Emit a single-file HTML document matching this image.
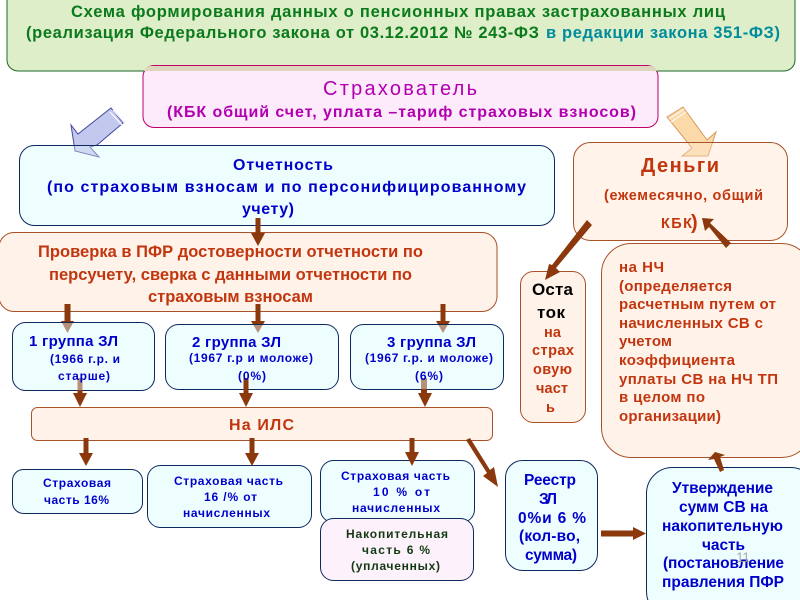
<!DOCTYPE html>
<html lang="ru">
<head>
<meta charset="utf-8">
<title>Схема формирования данных</title>
<style>
html,body{margin:0;padding:0;background:#fff;width:800px;height:600px;overflow:hidden}
svg{display:block}
text{font-family:"Liberation Sans",sans-serif;font-weight:bold}
.n{font-weight:normal}
.b{fill:#0000cc}
.r{fill:#c2360f}
.p{fill:#b000b0}
.g{fill:#0b7a1c}
.a{fill:#8b380c}
</style>
</head>
<body>
<svg width="800" height="600" viewBox="0 0 800 600" xmlns="http://www.w3.org/2000/svg">
<defs>
<clipPath id="c1"><rect x="20" y="146" width="534" height="79"/></clipPath>
<clipPath id="c2"><rect x="574" y="143" width="213" height="97"/></clipPath>
<clipPath id="g1"><rect x="13" y="323" width="141" height="67"/></clipPath>
<clipPath id="g2"><rect x="166" y="325" width="172" height="64"/></clipPath>
<clipPath id="g3"><rect x="351" y="325" width="152" height="64"/></clipPath>
</defs>
<rect width="800" height="600" fill="#fff"/>

<!-- top boxes -->
<rect x="7" y="-12" width="788" height="83" rx="11" fill="#ddeec8" stroke="#1f6a2a"/>
<rect x="143" y="65.500" width="515" height="62" rx="11" fill="#fdeafa" stroke="#c0006a"/>
<path d="M150 66H651Q656 67 657 71H144Q145 67 150 66Z" fill="#dcd6bc"/>

<!-- block arrows: solid outside the boxes -->
<polygon points="71,125 78,134 111,108 123,123 97,145 90,147 99,157 75,151" fill="#c3c8ee" stroke="#4a4aa0"/>
<path d="M113,110L125,123M110,112L122,125" stroke="#f0f0ff" stroke-width="1.500"/>
<polygon points="667,117 683,107 707,140 716,132 708,156 682,156 692,148" fill="#fbd9a8" stroke="#d89a5a"/>
<path d="M669,119L684,109M671,122L686,112" stroke="#fff" stroke-width="1"/>

<rect x="19.500" y="145.500" width="535" height="80" rx="15" fill="#eefeff" stroke="#0d2a5e"/>
<rect x="573.500" y="142.500" width="214" height="98" rx="17" fill="#fff3ea" stroke="#a8522a"/>
<polygon points="71,125 78,134 111,108 123,123 97,145 90,147 99,157 75,151" fill="#c3c8ee" stroke="#4a4aa0" opacity=".65" clip-path="url(#c1)"/>
<polygon points="667,117 683,107 707,140 716,132 708,156 682,156 692,148" fill="#fbd9a8" stroke="#d89a5a" opacity=".7" clip-path="url(#c2)"/>

<rect x="-1" y="232.500" width="498" height="79" rx="15" fill="#fff2e8" stroke="#a8522a"/>

<!-- arrows crossing into group boxes (solid part) -->
<g class="a">
<polygon points="64.500,304 70.500,304 70.500,321 74,321 67.500,333 61,321 64.500,321"/>
<polygon points="255.500,304 260.500,304 260.500,321 265,321 258,333 251,321 255.500,321"/>
<polygon points="440.500,304 445.500,304 445.500,321 450,321 443,333 436,321 440.500,321"/>
</g>

<!-- group boxes -->
<rect x="12.500" y="322.500" width="142" height="68" rx="13" fill="#eefeff" stroke="#0d2a5e"/>
<rect x="165.500" y="324.500" width="173" height="65" rx="13" fill="#eefeff" stroke="#0d2a5e"/>
<rect x="350.500" y="324.500" width="153" height="65" rx="13" fill="#eefeff" stroke="#0d2a5e"/>

<!-- arrow parts seen through group boxes -->
<g class="a" opacity=".55">
<polygon points="64.500,304 70.500,304 70.500,321 74,321 67.500,333 61,321 64.500,321" clip-path="url(#g1)"/>
<polygon points="255.500,304 260.500,304 260.500,321 265,321 258,333 251,321 255.500,321" clip-path="url(#g2)"/>
<polygon points="440.500,304 445.500,304 445.500,321 450,321 443,333 436,321 440.500,321" clip-path="url(#g3)"/>
<rect x="77.500" y="378" width="5" height="12"/>
<rect x="421" y="378" width="6" height="11"/>
</g>

<!-- on-ILS box -->
<rect x="31.500" y="407.500" width="461" height="33" rx="6" fill="#fff2e8" stroke="#a8522a"/>

<!-- bottom boxes -->
<rect x="12.500" y="469.500" width="130" height="44" rx="11" fill="#eefeff" stroke="#0d2a5e"/>
<rect x="147.500" y="465.500" width="164" height="62" rx="13" fill="#eefeff" stroke="#0d2a5e"/>
<rect x="320.500" y="460.500" width="154" height="62" rx="13" fill="#eefeff" stroke="#0d2a5e"/>
<rect x="320.500" y="518.500" width="153" height="62" rx="13" fill="#fdf1fb" stroke="#0d2a5e"/>
<rect x="505.500" y="460.500" width="92" height="110" rx="17" fill="#eefeff" stroke="#0d2a5e"/>
<rect x="646.500" y="467.500" width="170" height="150" rx="26" fill="#eefeff" stroke="#0d2a5e"/>
<rect x="520.500" y="271.500" width="65" height="151" rx="13" fill="#fff2e8" stroke="#a8522a"/>
<rect x="601.500" y="243.500" width="210" height="214" rx="30" fill="#fff2e8" stroke="#a8522a"/>

<!-- solid arrows -->
<g class="a">
<polygon points="255.500,218 260.500,218 260.500,233 265,233 258,246 251,233 255.500,233"/>
<polygon points="77.500,390 82.500,390 82.500,393 87,393 80,407 73,393 77.500,393"/>
<polygon points="243.500,378 248.500,378 248.500,393 253,393 246,407 239,393 243.500,393"/>
<polygon points="421,389 427,389 427,393 432,393 425,407 418,393 421,393"/>
<polygon points="83.500,438 88.500,438 88.500,453 93,453 86,466 79,453 83.500,453"/>
<polygon points="249.500,438 254.500,438 254.500,453 259,453 252,466 245,453 249.500,453"/>
<polygon points="409.500,438 414.500,438 414.500,452 419,452 412,466 405,452 409.500,452"/>
<polygon points="601,530.500 633,530.500 633,527 646,533.500 633,540 633,536.500 601,536.500"/>
<polygon points="466,440 470,438 490,470 494,467 498,487 483,476 487,473"/>
<polygon points="720,472 724,470 720,457 725,455 715,452 708,460 714,459"/>
<polygon points="726,248 731,243 710,223 714,219 702,218 705,231 709,227"/>
<polygon points="587,220 592,225 556,268 560,272 545,280 549,264 552,265"/>
</g>

<!-- title -->
<text x="71" y="17" font-size="16.500" class="g" textLength="654">Схема формирования данных о пенсионных правах застрахованных  лиц</text>
<text x="26" y="38" font-size="16.500" class="g" textLength="513">(реализация Федерального закона от 03.12.2012 № 243-ФЗ</text>
<text x="546" y="38" font-size="16.500" fill="#008c9c" textLength="234">в редакции закона 351-ФЗ)</text>

<text x="323" y="95" font-size="20" class="p n" textLength="154">Страхователь</text>
<text x="167" y="117" font-size="16" class="p" textLength="469">(КБК общий счет, уплата –тариф страховых взносов)</text>

<text x="233" y="170" font-size="16" class="b" textLength="100">Отчетность</text>
<text x="47" y="192" font-size="16" class="b" textLength="479">(по страховым взносам и по персонифицированному</text>
<text x="242" y="214" font-size="16" class="b" textLength="52">учету)</text>

<text x="641" y="172" font-size="20" class="r" textLength="78">Деньги</text>
<text x="604" y="200" font-size="14.500" class="r" textLength="159">(ежемесячно, общий</text>
<text x="661" y="228" font-size="14.500" class="r" textLength="31">КБК</text>
<text x="691" y="229" font-size="20" class="r">)</text>

<text x="38" y="257" font-size="16.500" class="r" textLength="385">Проверка в ПФР достоверности отчетности по</text>
<text x="49" y="280" font-size="16.500" class="r" textLength="363">персучету, сверка с данными отчетности по</text>
<text x="148" y="302" font-size="16.500" class="r" textLength="165">страховым взносам</text>

<text x="29" y="346" font-size="15" class="b" textLength="89">1 группа ЗЛ</text>
<text x="50" y="363" font-size="12" class="b" textLength="70">(1966 г.р. и</text>
<text x="58" y="380" font-size="12" class="b" textLength="52">старше)</text>

<text x="192" y="347" font-size="15" class="b" textLength="89">2 группа ЗЛ</text>
<text x="189" y="362" font-size="12" class="b" textLength="124">(1967 г.р и моложе)</text>
<text x="238" y="380" font-size="12" class="b" textLength="28">(0%)</text>

<text x="387" y="347" font-size="15" class="b" textLength="89">3 группа ЗЛ</text>
<text x="365" y="362" font-size="12" class="b" textLength="128">(1967 г.р. и моложе)</text>
<text x="415" y="380" font-size="12" class="b" textLength="28">(6%)</text>

<text x="229" y="430" font-size="16" class="r" textLength="65">На ИЛС</text>

<text x="43" y="487" font-size="12" class="b" textLength="68">Страховая</text>
<text x="44" y="504" font-size="12" class="b" textLength="65">часть 16%</text>

<text x="174" y="485" font-size="12" class="b" textLength="109">Страховая часть</text>
<text x="204" y="501" font-size="12" class="b" textLength="53">16 /% от</text>
<text x="183" y="517" font-size="12" class="b" textLength="87">начисленных</text>

<text x="341" y="480" font-size="12" class="b" textLength="109">Страховая часть</text>
<text x="373" y="496" font-size="12" class="b" textLength="57">10 % от</text>
<text x="352" y="512" font-size="12" class="b" textLength="88">начисленных</text>

<text x="346" y="538" font-size="12" fill="#123a12" textLength="102">Накопительная</text>
<text x="362" y="554" font-size="12" fill="#123a12" textLength="68">часть   6 %</text>
<text x="351" y="570" font-size="12" fill="#123a12" textLength="89">(уплаченных)</text>

<text x="532" y="295" font-size="17" fill="#000" textLength="41">Оста</text>
<text x="537" y="318" font-size="17" fill="#000" textLength="28">ток</text>
<text x="544" y="337" font-size="14.500" class="r" textLength="17">на</text>
<text x="532" y="355" font-size="14.500" class="r" textLength="42">страх</text>
<text x="533" y="374" font-size="14.500" class="r" textLength="39">овую</text>
<text x="536" y="393" font-size="14.500" class="r" textLength="32">част</text>
<text x="546" y="412" font-size="14.500" class="r" textLength="8">ь</text>

<text x="619" y="272" font-size="15" class="r" textLength="45">на НЧ</text>
<text x="619" y="291" font-size="15" class="r" textLength="113">(определяется</text>
<text x="619" y="309" font-size="15" class="r" textLength="157">расчетным путем от</text>
<text x="619" y="328" font-size="15" class="r" textLength="144">начисленных СВ с</text>
<text x="619" y="346" font-size="15" class="r" textLength="53">учетом</text>
<text x="619" y="365" font-size="15" class="r" textLength="116">коэффициента</text>
<text x="619" y="384" font-size="15" class="r" textLength="159">уплаты СВ на НЧ ТП</text>
<text x="619" y="402" font-size="15" class="r" textLength="86">в целом по</text>
<text x="619" y="421" font-size="15" class="r" textLength="102">организации)</text>

<text x="524" y="485" font-size="15.500" class="b" textLength="52">Реестр</text>
<text x="539" y="504" font-size="15.500" class="b" textLength="18">ЗЛ</text>
<text x="518" y="523" font-size="15.500" class="b" textLength="68">0%и 6 %</text>
<text x="519" y="541" font-size="15.500" class="b" textLength="61">(кол-во,</text>
<text x="525" y="560" font-size="15.500" class="b" textLength="52">сумма)</text>

<text x="672" y="493" font-size="15.500" class="b" textLength="101">Утверждение</text>
<text x="679" y="512" font-size="15.500" class="b" textLength="89">сумм СВ на</text>
<text x="662" y="531" font-size="15.500" class="b" textLength="121">накопительную</text>
<text x="702" y="550" font-size="15.500" class="b" textLength="43">часть</text>
<text x="663" y="568" font-size="15.500" class="b" textLength="121">(постановление</text>
<text x="662" y="587" font-size="15.500" class="b" textLength="122">правления ПФР</text>
<text x="736" y="562" font-size="14" fill="#999999" class="n" opacity=".8" textLength="14">11</text>
</svg>
</body>
</html>
